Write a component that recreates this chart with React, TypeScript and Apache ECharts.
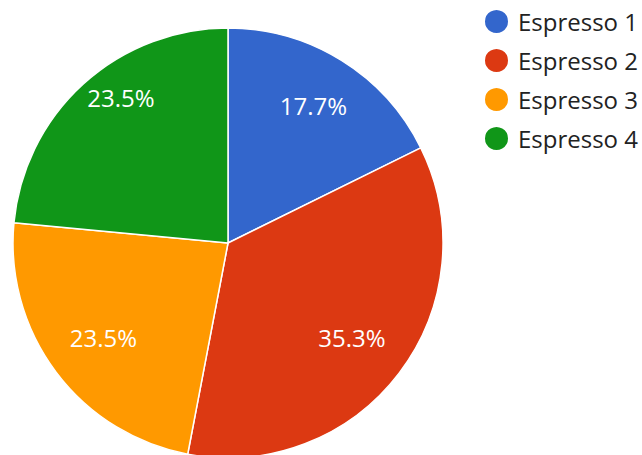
import React, { useEffect, useRef } from "react";
import * as echarts from "echarts";

const categories = ["Espresso 1", "Espresso 2", "Espresso 3", "Espresso 4"];
const values = [17.7, 35.3, 23.5, 23.5];
const colors = ["#3366cc", "#dc3912", "#ff9900", "#109618"];

const FONT = "'Open Sans', 'Noto Sans', sans-serif";
// small label nudges to mimic the reference's label placement
const labelNudge = [
  [0, 0],
  [-5, -4],
  [5, -3],
  [2, -26],
];

export default function App() {
  const ref = useRef<HTMLDivElement>(null);
  useEffect(() => {
    if (!ref.current) return;
    const chart = echarts.init(ref.current, undefined, { renderer: "svg" });
    const data = categories.map((name, i) => ({
      name,
      value: values[i],
      itemStyle: { color: colors[i] },
    }));
    chart.setOption({
      animation: false,
      legend: {
        orient: "vertical",
        left: 478,
        top: 3,
        icon: "circle",
        itemWidth: 25,
        itemHeight: 25,
        itemGap: 12,
        data: categories,
        textStyle: {
          fontFamily: FONT,
          fontSize: 24,
          color: "#222222",
          padding: [0, 0, 0, 4],
          lineHeight: 25,
        },
      },
      series: [
        {
          type: "pie",
          center: [228, 243],
          radius: 215,
          startAngle: 90,
          clockwise: true,
          silent: true,
          label: { show: false },
          labelLine: { show: false },
          itemStyle: { borderColor: "#ffffff", borderWidth: 1.5 },
          emphasis: { disabled: true },
          data,
        },
        {
          type: "pie",
          center: [228, 243],
          radius: [103, 215],
          startAngle: 90,
          clockwise: true,
          silent: true,
          percentPrecision: 1,
          itemStyle: { color: "rgba(0,0,0,0)", borderWidth: 0 },
          emphasis: { disabled: true },
          labelLine: { show: false },
          label: {
            show: true,
            position: "inside",
            formatter: "{d}%",
            color: "#ffffff",
            fontFamily: FONT,
            fontSize: 24,
          },
          labelLayout: (p: any) => ({
            dx: labelNudge[p.dataIndex][0],
            dy: labelNudge[p.dataIndex][1],
          }),
          data: categories.map((name, i) => ({ name, value: values[i] })),
        },
      ],
    });
    return () => chart.dispose();
  }, []);
  return <div ref={ref} style={{ width: 642, height: 455, position: "absolute", left: 0, top: 0 }} />;
}
